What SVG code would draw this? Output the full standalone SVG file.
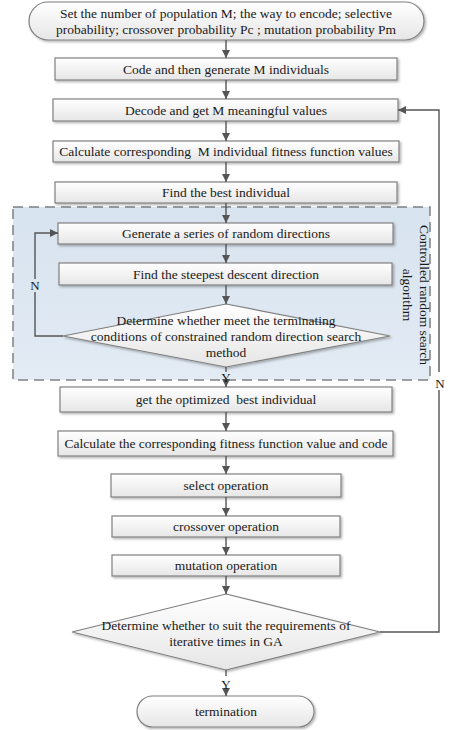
<svg xmlns="http://www.w3.org/2000/svg" width="474" height="730" viewBox="0 0 474 730">
<defs>
<linearGradient id="g" x1="0" y1="0" x2="0" y2="1"><stop offset="0" stop-color="#ffffff"/><stop offset="1" stop-color="#e6e6e6"/></linearGradient>
<linearGradient id="gb" x1="0" y1="0" x2="0" y2="1"><stop offset="0" stop-color="#d7e3ef"/><stop offset="1" stop-color="#e3ebf4"/></linearGradient>
<marker id="ah" viewBox="0 0 10 10" refX="10" refY="5" markerWidth="8" markerHeight="8" markerUnits="userSpaceOnUse" orient="auto"><path d="M0,0 L10,5 L0,10 z" fill="#555"/></marker>
<filter id="sh" x="-5%" y="-20%" width="110%" height="150%"><feDropShadow dx="1.5" dy="1.5" stdDeviation="0.8" flood-color="#000" flood-opacity="0.3"/></filter>
</defs>
<style>
.b{fill:url(#g);stroke:#808080;stroke-width:1.2;filter:url(#sh)}
.t{font-family:"Liberation Serif","Times New Roman",serif;font-size:13.5px;fill:#1a1a1a;text-anchor:middle;white-space:pre}
.c{fill:none;stroke:#555;stroke-width:1.4}
.a{marker-end:url(#ah)}
.l{font-family:"Liberation Serif","Times New Roman",serif;font-size:13px;fill:#1a1a1a;text-anchor:middle}
</style>
<g id="region">
<rect x="13" y="207" width="417" height="173" fill="url(#gb)" stroke="#808080" stroke-width="1.5" stroke-dasharray="10 6"/>
<text class="t" transform="translate(420,295) rotate(90)">Controlled random search</text>
<text class="t" transform="translate(403,295) rotate(90)">algorithm</text>
</g>
<g id="start">
<rect class="b" x="29" y="2" width="395" height="38" rx="19" ry="19"/>
<text class="t" x="226" y="18">Set the number of population M; the way to encode; selective</text>
<text class="t" x="226" y="34">probability; crossover probability Pc ; mutation probability Pm</text>
</g>
<g id="code"><rect class="b" x="55" y="58" width="342" height="22"/><text class="t" x="226" y="74">Code and then generate M individuals</text></g>
<g id="decode"><rect class="b" x="53" y="99" width="345" height="22"/><text class="t" x="226" y="115">Decode and get M meaningful values</text></g>
<g id="calc"><rect class="b" x="53" y="141" width="346" height="21"/><text class="t" x="226" y="156" xml:space="preserve">Calculate corresponding  M individual fitness function values</text></g>
<g id="best"><rect class="b" x="55" y="182" width="342" height="21"/><text class="t" x="226" y="197">Find the best individual</text></g>
<g id="gen"><rect class="b" x="58" y="223" width="335" height="21"/><text class="t" x="226" y="238">Generate a series of random directions</text></g>
<g id="steep"><rect class="b" x="59" y="263" width="333" height="22"/><text class="t" x="226" y="279">Find the steepest descent direction</text></g>
<g id="dec1"><polygon class="b" points="226,304 390,336 226,367 63,336"/>
<text class="t" x="226" y="325">Determine whether meet the terminating</text>
<text class="t" x="226" y="341">conditions of constrained random direction search</text>
<text class="t" x="226" y="357">method</text></g>
<g id="opt"><rect class="b" x="60" y="387" width="332" height="25"/><text class="t" x="226" y="404" xml:space="preserve">get the optimized  best individual</text></g>
<g id="calc2"><rect class="b" x="58" y="431" width="335" height="25"/><text class="t" x="226" y="448">Calculate the corresponding fitness function value and code</text></g>
<g id="sel"><rect class="b" x="111" y="474" width="230" height="23"/><text class="t" x="226" y="490">select operation</text></g>
<g id="cross"><rect class="b" x="112" y="516" width="228" height="21"/><text class="t" x="226" y="531">crossover operation</text></g>
<g id="mut"><rect class="b" x="112" y="555" width="228" height="21"/><text class="t" x="226" y="570">mutation operation</text></g>
<g id="dec2"><polygon class="b" points="226,594 380,632 226,670 72,632"/>
<text class="t" x="226" y="630">Determine whether to suit the requirements of</text>
<text class="t" x="226" y="646">iterative times in GA</text></g>
<g id="end"><rect class="b" x="137" y="696" width="177" height="31" rx="15.5" ry="15.5"/><text class="t" x="226" y="716">termination</text></g>
<g id="connectors">
<line class="c a" x1="226" y1="40" x2="226" y2="58"/>
<line class="c a" x1="226" y1="80" x2="226" y2="99"/>
<line class="c a" x1="226" y1="121" x2="226" y2="141"/>
<line class="c a" x1="226" y1="162" x2="226" y2="182"/>
<line class="c a" x1="226" y1="203" x2="226" y2="223"/>
<line class="c a" x1="226" y1="244" x2="226" y2="263"/>
<line class="c a" x1="226" y1="285" x2="226" y2="304"/>
<polyline class="c" points="63,336 35,336 35,292"/>
<polyline class="c a" points="35,279 35,233 58,233"/>
<text class="l" x="35" y="290">N</text>
<line class="c" x1="226" y1="367" x2="226" y2="372"/>
<line class="c a" x1="226" y1="383" x2="226" y2="387"/>
<text class="l" x="226" y="382">Y</text>
<line class="c a" x1="226" y1="412" x2="226" y2="431"/>
<line class="c a" x1="226" y1="456" x2="226" y2="474"/>
<line class="c a" x1="226" y1="497" x2="226" y2="516"/>
<line class="c a" x1="226" y1="537" x2="226" y2="555"/>
<line class="c a" x1="226" y1="576" x2="226" y2="594"/>
<polyline class="c" points="380,632 439,632 439,390"/>
<polyline class="c a" points="439,372 439,110 398,110"/>
<text class="l" x="440" y="388">N</text>
<line class="c" x1="226" y1="670" x2="226" y2="676"/>
<line class="c a" x1="226" y1="690" x2="226" y2="696"/>
<text class="l" x="226" y="689">Y</text>
</g>
</svg>
